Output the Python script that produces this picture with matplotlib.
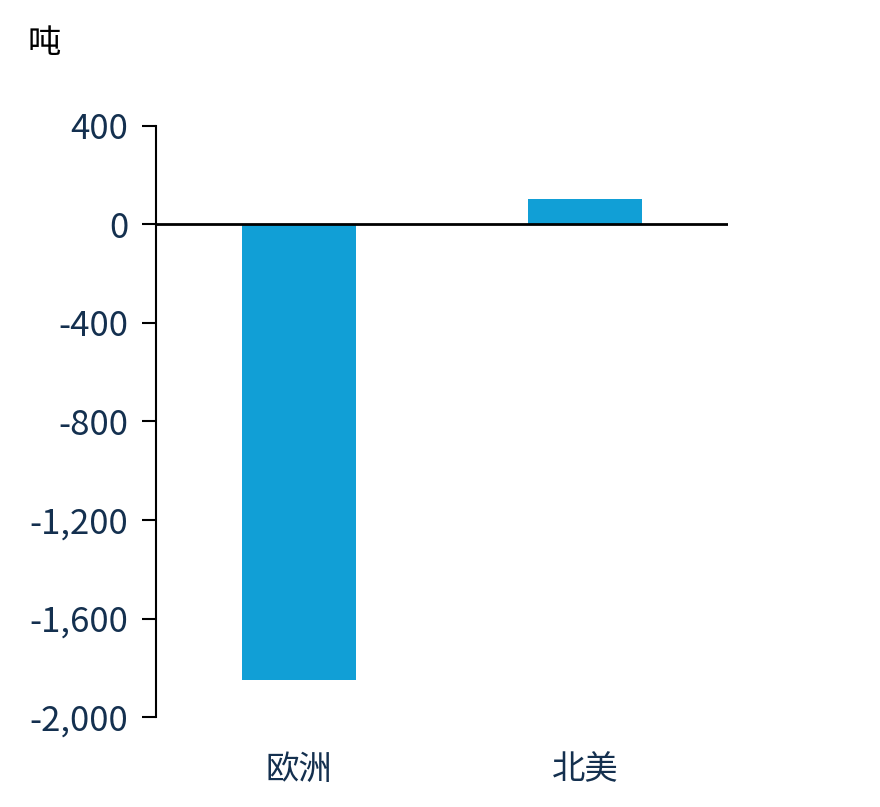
import matplotlib.pyplot as plt
from matplotlib.ticker import FuncFormatter

plt.rcParams['font.family'] = ['Noto Sans CJK SC', 'DejaVu Sans']

# 数据
regions = ['欧洲', '北美']
values = [-1850, 105]
yticks = [-2000, -1600, -1200, -800, -400, 0, 400]

fig = plt.figure(figsize=(8.8, 8.07), dpi=100)
ax = fig.add_axes([0.1773, 0.1115, 0.65, 0.7324])

ax.bar(regions, values, width=0.4, color='#119fd6')
ax.axhline(0, color='black', lw=2, zorder=3)

ax.set_xlim(-0.5, 1.5)
ax.set_ylim(-2000, 400)
ax.set_yticks(yticks)
ax.yaxis.set_major_formatter(FuncFormatter(lambda v, p: f'{int(v):,}'))

for s in ['top', 'right', 'bottom']:
    ax.spines[s].set_visible(False)
ax.spines['left'].set_linewidth(1.5)
ax.tick_params(axis='y', length=10, width=1.5, labelsize=25, labelcolor='#14304f', pad=10)
ax.tick_params(axis='x', length=0, labelsize=24, labelcolor='#14304f', pad=25)

fig.text(0.05, 0.9467, '吨', fontsize=24, va='center', ha='center')

fig.savefig('out.png', dpi=100)
